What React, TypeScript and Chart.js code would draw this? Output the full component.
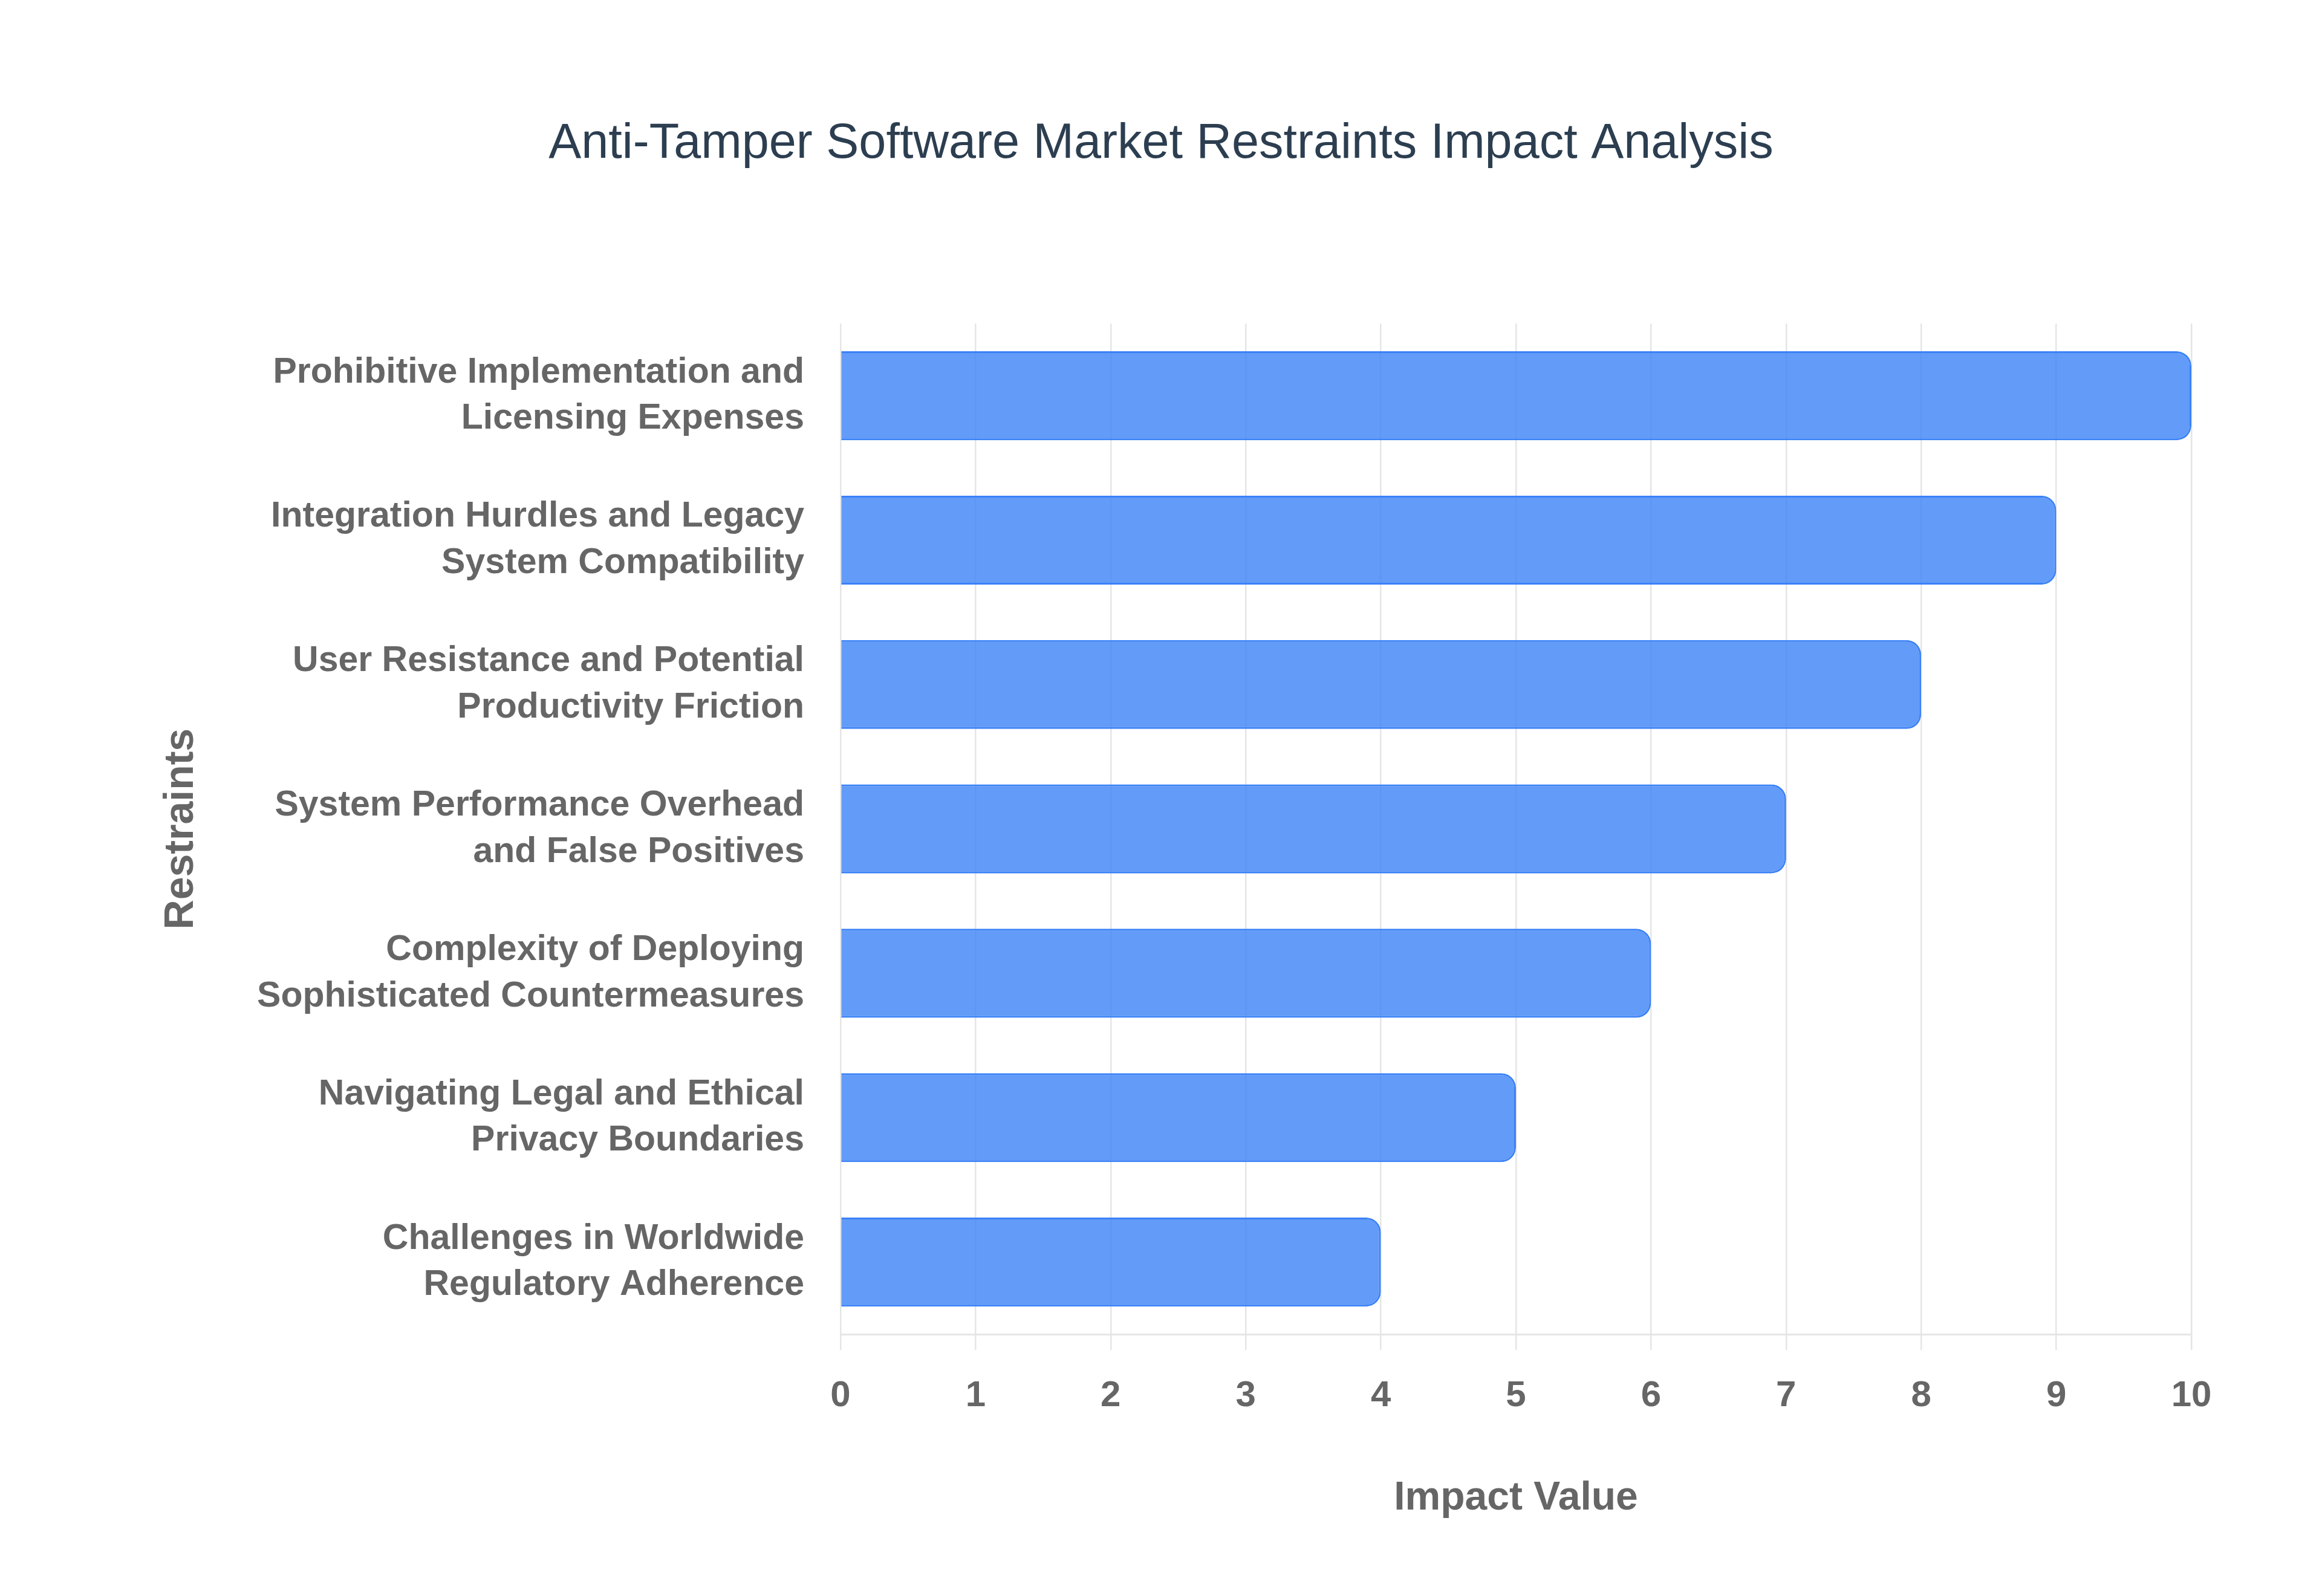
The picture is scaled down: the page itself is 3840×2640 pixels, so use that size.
import { useEffect, useRef } from 'react'
import { Chart, registerables } from 'chart.js'

// 注册 Chart.js 组件
Chart.register(...registerables)

// 类别（多行标签）
const restraints: string[][] = [
  ['Prohibitive Implementation and', 'Licensing Expenses'],
  ['Integration Hurdles and Legacy', 'System Compatibility'],
  ['User Resistance and Potential', 'Productivity Friction'],
  ['System Performance Overhead', 'and False Positives'],
  ['Complexity of Deploying', 'Sophisticated Countermeasures'],
  ['Navigating Legal and Ethical', 'Privacy Boundaries'],
  ['Challenges in Worldwide', 'Regulatory Adherence'],
]

// 影响值
const impactValues: number[] = [10, 9, 8, 7, 6, 5, 4]

const chartTitle = 'Anti-Tamper Software Market Restraints Impact Analysis'
const xTitle = 'Impact Value'
const yTitle = 'Restraints'

const W = 3840
const H = 2640
const FONT = "'Liberation Sans', Arial, Helvetica, sans-serif"

export default function App() {
  const chartRef = useRef<HTMLCanvasElement>(null)
  const chartInstance = useRef<Chart | null>(null)

  useEffect(() => {
    document.body.style.margin = '0'
    if (!chartRef.current) return

    if (chartInstance.current) {
      chartInstance.current.destroy()
    }

    const config: any = {
      type: 'bar',
      data: {
        labels: restraints,
        datasets: [{
          label: 'Impact Value',
          data: impactValues,
          backgroundColor: 'rgba(59, 130, 246, 0.8)',
          borderColor: 'rgb(59, 130, 246)',
          borderWidth: 3,
          borderRadius: 24,
          borderSkipped: 'start',
          categoryPercentage: 0.8,
          barPercentage: 0.77,
        }]
      },
      options: {
        indexAxis: 'y',
        responsive: false,
        animation: false,
        devicePixelRatio: 1,
        layout: {
          // 左右对称，使标题居中于画布
          padding: { left: 216, right: 216, top: 0, bottom: 122 }
        },
        plugins: {
          legend: { display: false },
          tooltip: { enabled: false },
          title: {
            display: true,
            text: chartTitle,
            color: '#2c3e50',
            font: { family: FONT, size: 81, weight: 'normal' },
            padding: { top: 190, bottom: 248 }
          }
        },
        scales: {
          x: {
            min: 0,
            max: 10,
            ticks: {
              stepSize: 1,
              color: '#666',
              padding: 40,
              font: { family: FONT, size: 60, weight: 'bold' }
            },
            grid: {
              color: 'rgba(0, 0, 0, 0.1)',
              lineWidth: 2.5,
              tickLength: 26
            },
            border: { color: 'rgba(0, 0, 0, 0.1)', width: 3 },
            title: {
              display: true,
              text: xTitle,
              color: '#666',
              font: { family: FONT, size: 66, weight: 'bold' },
              padding: { top: 0, bottom: 0 }
            },
            afterFit: (scale: any) => { scale.height = 311 }
          },
          y: {
            ticks: {
              color: '#666',
              padding: 60,
              font: { family: FONT, size: 59, weight: 'bold', lineHeight: 1.3 }
            },
            grid: { display: false, drawTicks: false },
            border: { display: false },
            title: {
              display: true,
              text: yTitle,
              color: '#666',
              font: { family: FONT, size: 68, weight: 'bold' },
              padding: { top: 43, bottom: 0 }
            },
            afterFit: (scale: any) => { scale.width = 1174 }
          }
        }
      }
    }

    chartInstance.current = new Chart(chartRef.current, config)

    return () => {
      if (chartInstance.current) {
        chartInstance.current.destroy()
        chartInstance.current = null
      }
    }
  }, [])

  return (
    <div style={{ width: W, height: H, background: '#fff' }}>
      <canvas ref={chartRef} width={W} height={H}></canvas>
    </div>
  )
}
